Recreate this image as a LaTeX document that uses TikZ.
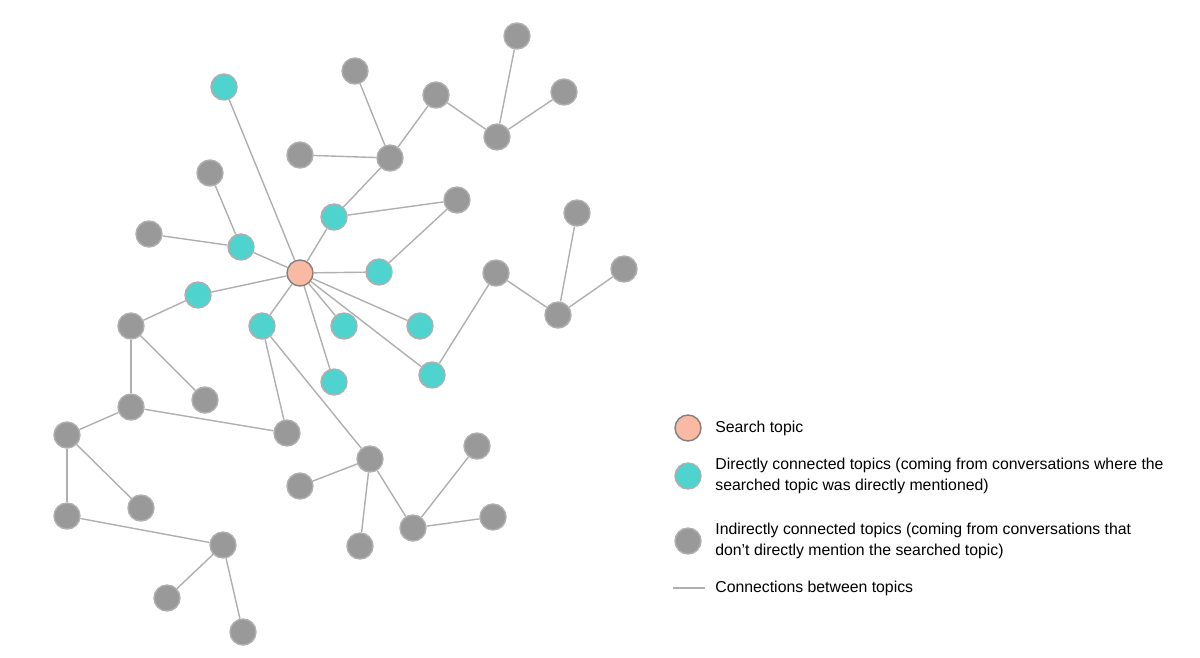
\documentclass[tikz,border=0pt]{standalone}
\usepackage{fontspec}
\setmainfont{Liberation Sans}
\definecolor{tealdot}{HTML}{4FD3CE}
\definecolor{graydot}{HTML}{999999}
\definecolor{searchdot}{HTML}{F9B9A2}
\definecolor{edgegray}{HTML}{AFAFAF}
\tikzstyle{topic}=[shape=circle,minimum size=5.2mm,inner sep=0,draw=edgegray,line width=0.8pt]
\tikzstyle{search}=[topic,fill=searchdot,draw=gray]
\tikzstyle{direct}=[topic,fill=tealdot]
\tikzstyle{indirect}=[topic,fill=graydot]
\tikzstyle{link}=[edgegray,line width=0.8pt]
\tikzstyle{legendtext}=[anchor=west,align=left,font=\fontsize{9}{12}\selectfont,inner sep=0]

\begin{document}
\begin{tikzpicture}[x=0.02cm,y=-0.02cm]
\useasboundingbox (0,0) rectangle (1200,657);

% search topic
\node[search] (s) at (300,273) {};

% directly connected topics
\foreach \n/\x/\y in {t1/224/87,t2/334/217,t3/241/247,t4/379/272,t5/198/295,
	t6/262/326,t7/344/326,t8/420/326,t9/334/382,t10/432/375}{
	\node[direct] (\n) at (\x,\y) {};
}

% indirectly connected topics
\foreach \n/\x/\y in {g1/517/36,g2/355/71,g3/436/95,g4/564/92,g5/497/137,
	g6/300/155,g7/390/158,g8/210/173,g9/457/200,g10/149/234,g11/577/213,
	g12/624/269,g13/496/273,g14/558/315,g15/131/326,g16/205/400,g17/131/407,
	g18/287/433,g19/67/435,g20/370/459,g21/477/446,g22/300/486,g23/141/508,
	g24/67/516,g25/413/528,g26/493/517,g27/360/546,g28/223/545,g29/167/598,
	g30/243/632}{
	\node[indirect] (\n) at (\x,\y) {};
}

\begin{scope}[on background layer/.style={}]
\foreach \a/\b in {s/t1,s/t2,s/t3,s/t4,s/t5,s/t6,s/t7,s/t8,s/t9,s/t10,
	t3/g8,t3/g10,t2/g7,t2/g9,t4/g9,g7/g6,g7/g3,g7/g2,g3/g5,g5/g1,g5/g4,
	t10/g13,g13/g14,g14/g11,g14/g12,t5/g15,g15/g16,g15/g17,g17/g18,g17/g19,
	g19/g23,g19/g24,g24/g28,g28/g29,g28/g30,t6/g18,t6/g20,g20/g22,g20/g27,
	g20/g25,g25/g21,g25/g26}{
	\draw[link] (\a) -- (\b);
}
\end{scope}

% legend
\node[search] (ls) at (688,428) {};
\node[direct] (ld) at (688,476) {};
\node[indirect] (li) at (688,541) {};
\coordinate (la) at (673,588);
\coordinate (lb) at (705,588);
\draw[link] (la) -- (lb);
\node[legendtext] (lts) at (715,428) {Search topic};
\node[legendtext] (ltd) at (715,476) {Directly connected topics (coming from conversations where the\\searched topic was directly mentioned)};
\node[legendtext] (lti) at (715,541) {Indirectly connected topics (coming from conversations that\\don’t directly mention the searched topic)};
\node[legendtext] (ltl) at (715,588) {Connections between topics};
\end{tikzpicture}
\end{document}
